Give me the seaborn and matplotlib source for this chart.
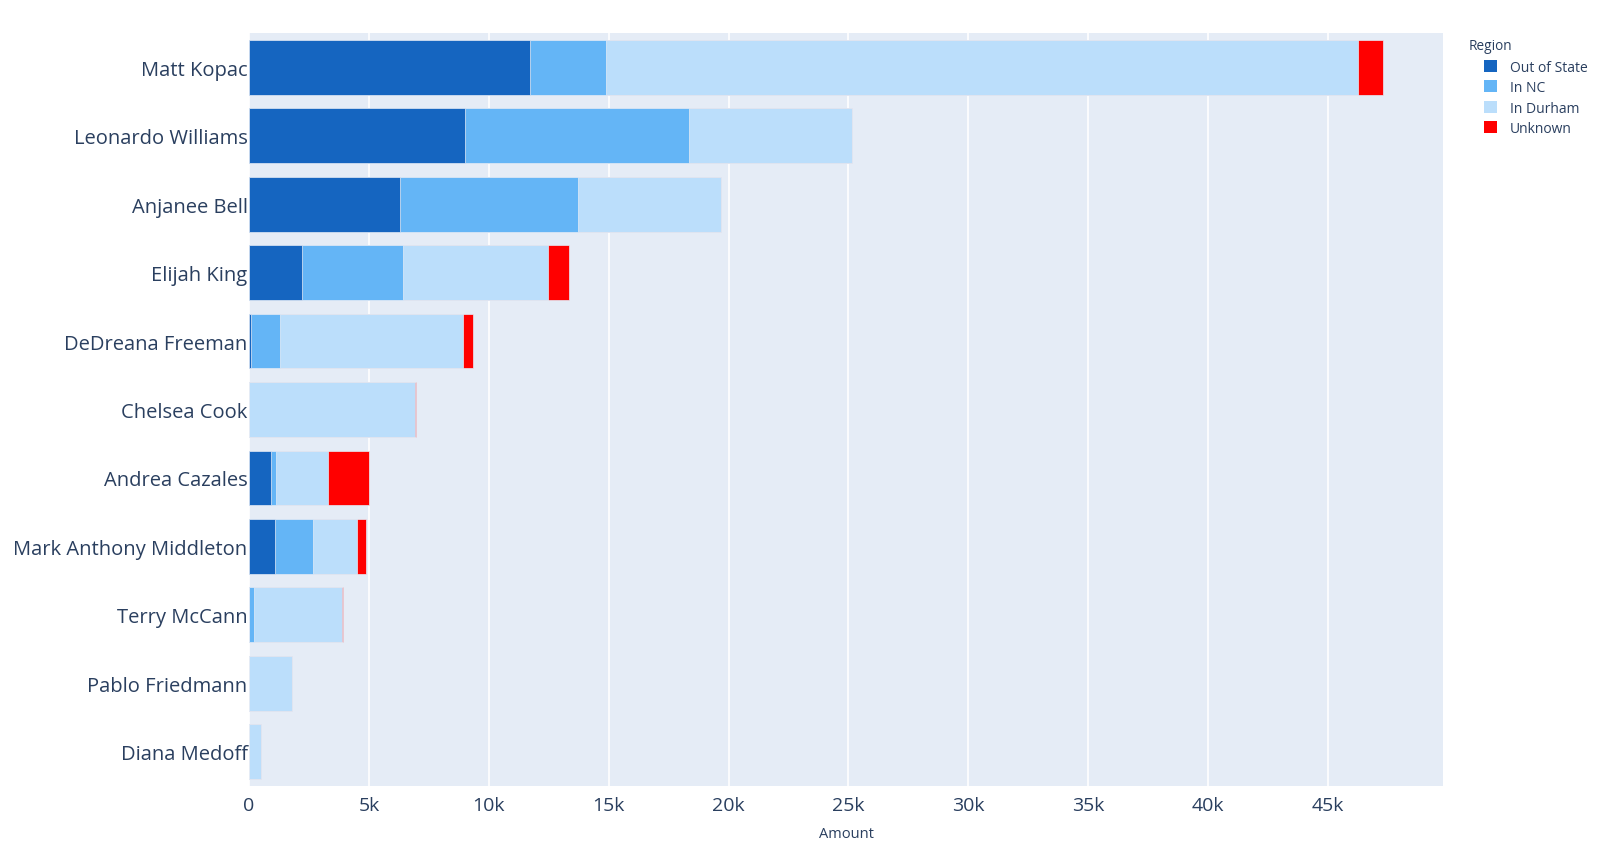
import matplotlib
matplotlib.use("Agg")
import matplotlib.pyplot as plt
from matplotlib.patches import Patch
from matplotlib.ticker import FuncFormatter, MultipleLocator
import seaborn as sns
import pandas as pd
import numpy as np

names = ["Matt Kopac", "Leonardo Williams", "Anjanee Bell", "Elijah King",
         "DeDreana Freeman", "Chelsea Cook", "Andrea Cazales",
         "Mark Anthony Middleton", "Terry McCann", "Pablo Friedmann", "Diana Medoff"]
out_of_state = [11700, 8990, 6300, 2200, 100, 0, 920, 1080, 0, 0, 0]
in_nc = [3200, 9350, 7430, 4220, 1190, 20, 220, 1570, 200, 0, 0]
in_durham = [31340, 6810, 5940, 6050, 7630, 6900, 2140, 1850, 3660, 1780, 500]
unknown = [1040, 0, 0, 890, 440, 40, 1730, 360, 40, 0, 0]

regions = ["Out of State", "In NC", "In Durham", "Unknown"]
colors = ["#1565C0", "#64B5F6", "#BBDEFB", "#FF0000"]

sns.set_theme(style="white")
plt.rcParams["font.family"] = ["Open Sans", "DejaVu Sans"]
txt = "#2a3f5f"

df = pd.DataFrame({"name": names, "Out of State": out_of_state, "In NC": in_nc,
                   "In Durham": in_durham, "Unknown": unknown})
cum = df[regions].cumsum(axis=1)

fig = plt.figure(figsize=(16, 8.62), dpi=100)
ax = fig.add_axes([249/1600, 1-787/862, (1443-249)/1600, (787-34)/862])
ax.set_facecolor("#E5ECF6")

# draw layers from the outermost cumulative total inward
for reg, col in reversed(list(zip(regions, colors))):
    sns.barplot(x=cum[reg], y=df["name"], orient="h", color=col, ax=ax,
                width=0.8, edgecolor="#E5ECF6", linewidth=0.5, saturation=1)

ax.set_xlim(0, 49800)
ax.set_ylim(10.5, -0.5)
ax.xaxis.set_major_locator(MultipleLocator(5000))
ax.xaxis.set_major_formatter(FuncFormatter(lambda v, p: "0" if v == 0 else f"{int(v/1000)}k"))
ax.grid(axis="x", color="white", linewidth=1.2)
ax.grid(axis="y", visible=False)
ax.set_axisbelow(True)
for s in ax.spines.values():
    s.set_visible(False)
ax.tick_params(axis="both", length=0, colors=txt)
ax.tick_params(axis="x", labelsize=14, pad=7)
ax.tick_params(axis="y", labelsize=14.5, pad=1)
ax.set_ylabel("")
ax.set_xlabel("Amount", fontsize=10.5, color=txt, labelpad=9)

fig.text(1469/1600, 1-47/862, "Region", fontsize=9.8, color=txt, ha="left", va="center")
handles = [Patch(facecolor=c, edgecolor="none", label=r) for r, c in zip(regions, colors)]
leg = fig.legend(handles=handles, loc="upper left",
                 bbox_to_anchor=(1478/1600, 1-55/862), frameon=False,
                 fontsize=10, handlelength=0.95, handleheight=0.95,
                 handletextpad=0.95, labelspacing=0.40, borderaxespad=0)
for t in leg.get_texts():
    t.set_color(txt)

fig.savefig("out.png", dpi=100)
